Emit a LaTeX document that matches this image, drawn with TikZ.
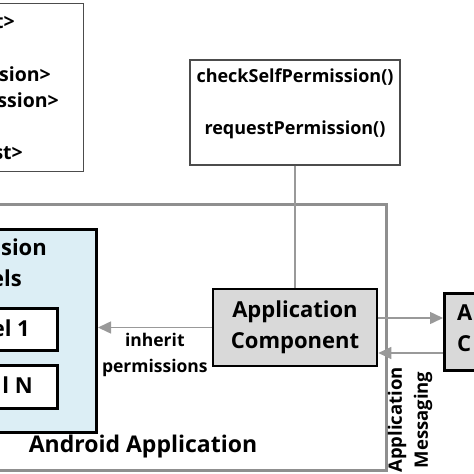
\documentclass[tikz,border=0pt]{standalone}
\usepackage{fontspec}
\setmainfont{Open Sans}
\usetikzlibrary{arrows.meta}
\usetikzlibrary{positioning}
\usetikzlibrary{calc}
\definecolor{lightblue}{HTML}{DCEEF5}
\definecolor{compgray}{HTML}{D9D9D9}
\definecolor{linegray}{HTML}{999999}
\definecolor{framegray}{HTML}{8F8F8F}

\begin{document}
\begin{tikzpicture}[x=1pt,y=-1pt]
\tikzstyle{thinbox}=[draw=black!70, line width=1.2pt, rectangle, inner sep=0pt]
\tikzstyle{blackbox}=[draw=black, line width=2.6pt, rectangle, inner sep=0pt]
\tikzstyle{conn}=[draw=linegray, line width=1.5pt, -{Triangle[length=13pt,width=12pt,fill=linegray]}]
\tikzstyle{txt}=[inner sep=0pt, font=\bfseries\fontsize{19.5}{21}\selectfont]
\tikzstyle{bigtxt}=[inner sep=0pt, font=\bfseries\fontsize{22}{31}\selectfont]

\clip (0,0) rectangle (474,474);

% manifest box, cut at the left
\node (manifest) [thinbox, anchor=north east, minimum width=150, minimum height=168] at (84,3) {};
\node (mOne) [txt, anchor=east] at (15,22) {t>};
\node (mTwo) [txt, anchor=east] at (51,74) {sion>};
\node (mThree) [txt, anchor=east] at (59,100) {ssion>};
\node (mFour) [txt, anchor=east] at (23,153) {st>};

% runtime calls
\node (check) [thinbox, minimum width=210, minimum height=105] at (295,112.5) {};
\node (checkTxt) [txt, align=center, font=\bfseries\fontsize{18}{52}\selectfont] at ($(check.center)+(0,-8.5)$) {checkSelfPermission()\\requestPermission()};

% android application frame
\node (app) [draw=framegray, line width=3pt, rectangle, anchor=north east, minimum width=400, minimum height=266] at (388,203) {};
\node (appTxt) [bigtxt, font=\bfseries\fontsize{23}{26}\selectfont] at (143,447) {Android Application};

\node (levels) [blackbox, fill=lightblue, anchor=north east, minimum width=150, minimum height=203] at (98,228) {};
\node (levTxtA) [bigtxt, anchor=east] at (47,247) {sion};
\node (levTxtB) [bigtxt, anchor=east] at (22,278) {els};
\node (levelOne) [blackbox, fill=white, anchor=north east, minimum width=100, minimum height=42] at (59,307) {};
\node (levelN) [blackbox, fill=white, anchor=north east, minimum width=100, minimum height=43] at (59,364) {};
\node (levOneTxt) [bigtxt, anchor=east] at (30,328) {el 1};
\node (levNTxt) [bigtxt, anchor=east] at (33,385) {l N};

\node (comp) [blackbox, fill=compgray, minimum width=164, minimum height=77, align=center, font=\bfseries\fontsize{22}{31}\selectfont] at (295,327.5) {Application\\Component};

\node (other) [blackbox, fill=compgray, anchor=north west, minimum width=80, minimum height=77] at (443,292) {};
\node (otherTxt) [bigtxt, anchor=west, align=left, font=\bfseries\fontsize{22}{31}\selectfont] at (457,328.5) {A\\C};

% connectors
\draw [linegray, line width=1.5pt] (check.south) -- (comp.north);
\draw [conn] (comp.west) -- (comp.west -| levels.east) node [pos=0.5, below=5pt, txt, align=center, font=\bfseries\fontsize{17.5}{26}\selectfont] (inherit) {inherit\\permissions};

\coordinate (msgOut) at ([yshift=9.5pt]comp.east);
\coordinate (msgIn) at ([yshift=-25.5pt]comp.east);
\draw [conn] (msgOut) -- (msgOut -| other.west);
\draw [conn] (msgIn -| other.west) -- (msgIn);
\node (msg) [txt, rotate=90, align=center, font=\bfseries\fontsize{18.5}{26}\selectfont] at (410,420) {Application\\Messaging};

\end{tikzpicture}
\end{document}
